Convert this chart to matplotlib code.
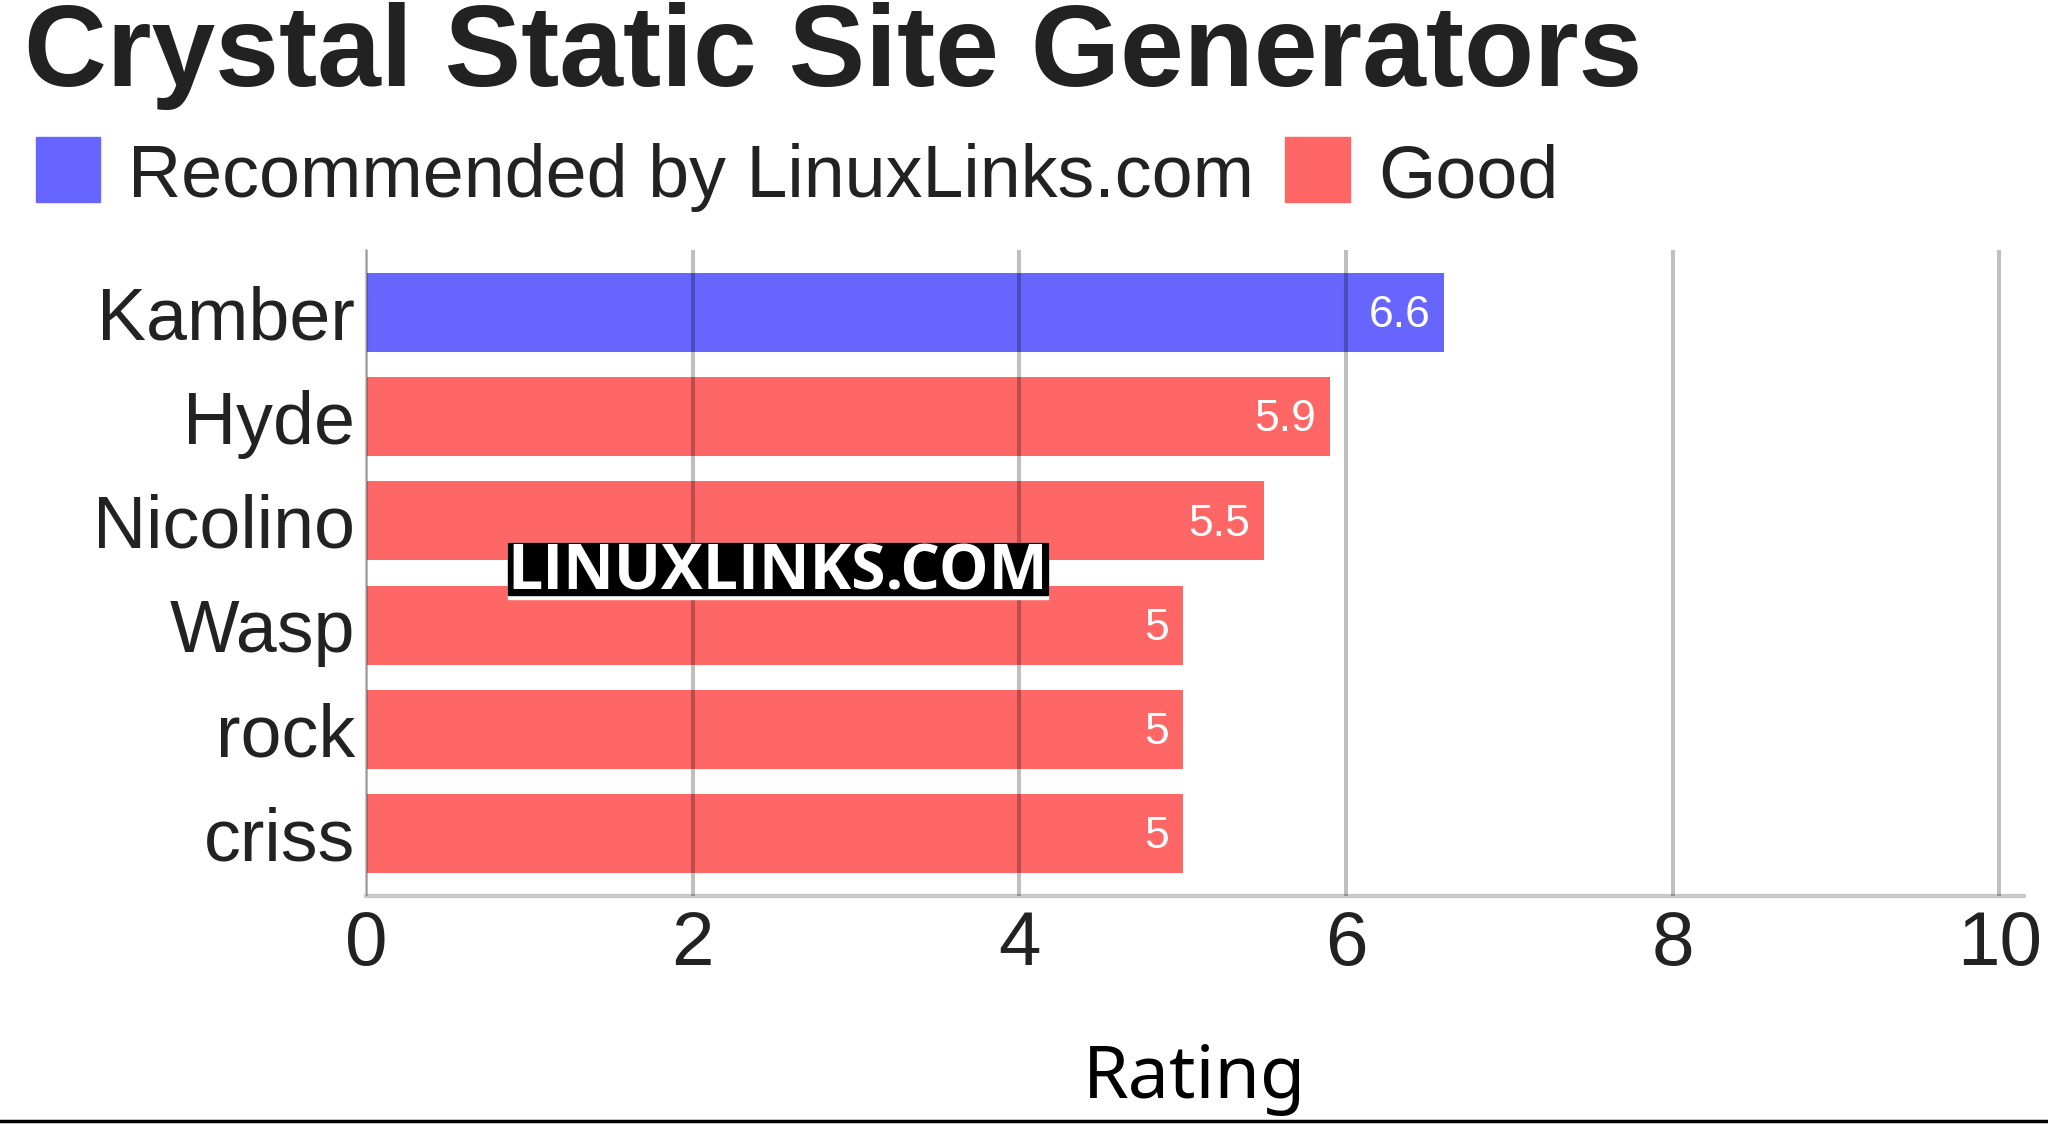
import matplotlib
matplotlib.use("Agg")
import matplotlib.pyplot as plt
from matplotlib.patches import Rectangle

names = ["Kamber", "Hyde", "Nicolino", "Wasp", "rock", "criss"]
ratings = [6.6, 5.9, 5.5, 5, 5, 5]
groups = ["Recommended", "Good", "Good", "Good", "Good", "Good"]
legend_labels = ["Recommended by LinuxLinks.com", "Good"]
xticks = [0, 2, 4, 6, 8, 10]

BLUE = "#6666ff"
RED = "#ff6666"
INK = "#222222"
colors = {"Recommended": BLUE, "Good": RED}

W, H = 2048, 1124
fig = plt.figure(figsize=(W / 100, H / 100), dpi=100)

def fx(px):
    return px / W

def fy(py):
    # py measured from the top of the image
    return 1 - py / H

ax = fig.add_axes([fx(366), fy(896), fx(2024 - 366), (896 - 250) / H])

ypos = list(range(len(names)))
ax.barh(ypos, ratings, height=0.76, color=[colors[g] for g in groups], zorder=1)
for y, v in zip(ypos, ratings):
    ax.text(v - 0.085, y + 0.03, f"{v:g}", ha="right", va="center", color="white",
            fontsize=32, family="Liberation Sans", zorder=3)

ax.set_xlim(0, 10.15)
ax.set_ylim(5.6, -0.6)
ax.set_yticks(ypos)
ax.set_yticklabels(names, family="Liberation Sans", fontsize=53, color=INK)
ax.set_xticks(xticks)
ax.set_xticklabels([str(t) for t in xticks], family="Liberation Sans",
                   fontsize=55, color=INK)
ax.tick_params(axis="both", length=0)
ax.tick_params(axis="y", pad=8)
ax.tick_params(axis="x", pad=10)

ax.set_axisbelow(False)
ax.grid(axis="x", color="black", alpha=0.25, linewidth=2.9, zorder=2)
ax.grid(axis="y", visible=False)
for side in ["top", "right"]:
    ax.spines[side].set_visible(False)
ax.spines["bottom"].set_color("#c8c8c8")
ax.spines["bottom"].set_linewidth(3)
ax.spines["left"].set_color("#c8c8c8")
ax.spines["left"].set_linewidth(1.5)

ax.set_xlabel("Rating", family="Noto Sans", fontsize=53, color="black",
              labelpad=44)

# title
fig.text(fx(24), fy(86), "Crystal Static Site Generators", family="Liberation Sans",
         fontweight="bold", fontsize=82.5, color=INK, va="baseline", ha="left")

# legend
fig.patches.append(Rectangle((fx(36), fy(202)), fx(64), 65 / H, color=BLUE,
                             transform=fig.transFigure))
fig.text(fx(128), fy(197), legend_labels[0], family="Liberation Sans", fontsize=53,
         color=INK, va="baseline", ha="left")
fig.patches.append(Rectangle((fx(1285), fy(202)), fx(65), 65 / H, color=RED,
                             transform=fig.transFigure))
fig.text(fx(1378), fy(197), legend_labels[1], family="Liberation Sans", fontsize=53,
         color=INK, va="baseline", ha="left")

# watermark
fig.patches.append(Rectangle((fx(508), fy(599)), fx(540), 56 / H, color="white",
                             transform=fig.transFigure, zorder=5))
fig.patches.append(Rectangle((fx(508), fy(595)), fx(540), 52 / H, color="black",
                             transform=fig.transFigure, zorder=6))
fig.text(fx(778), fy(590), "LINUXLINKS.COM", family="Open Sans", fontweight="bold",
         fontsize=45, color="white", ha="center", va="baseline", zorder=7)

# bottom rule
fig.lines.append(plt.Line2D([0, 1], [fy(1121), fy(1121)], color="black",
                            linewidth=2.5, transform=fig.transFigure))

fig.savefig("out.png", dpi=100)
